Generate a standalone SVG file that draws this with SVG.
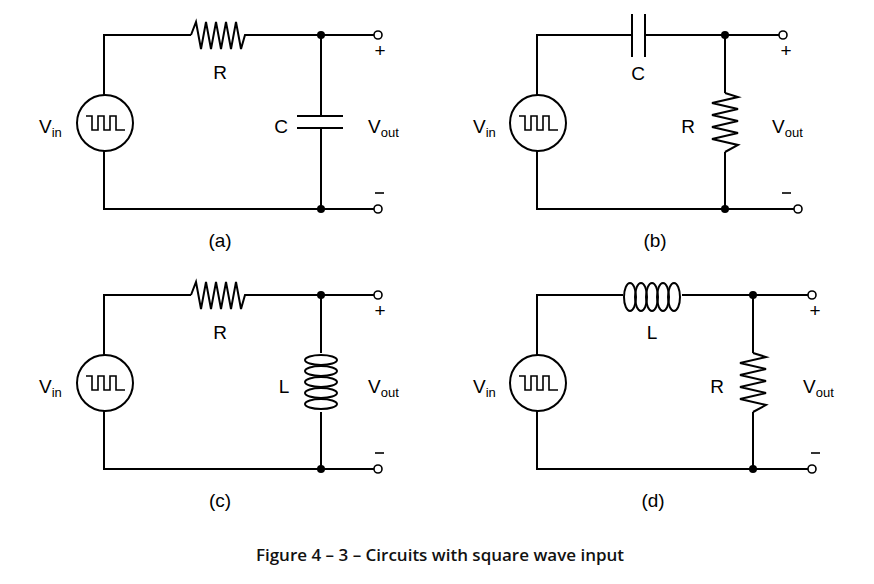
<svg xmlns="http://www.w3.org/2000/svg" width="874" height="584" viewBox="0 0 874 584">
<style>
.w{fill:none;stroke:#000;stroke-width:2;stroke-linejoin:miter}
.t{fill:none;stroke:#000;stroke-width:1.6}
.d{fill:#000}
.o{fill:#fff;stroke:#000;stroke-width:1.6}
.l{font-family:"Liberation Sans",Arial,sans-serif;font-size:19px;fill:#000}
.s{font-size:13px}
.c{text-anchor:middle}
.ti{font-family:"Open Sans","Liberation Sans",sans-serif;font-size:17px;font-weight:600;fill:#111;text-anchor:middle}
</style>
<defs>
<g id="src">
<circle cx="0" cy="0" r="28" fill="#fff" stroke="#000" stroke-width="2"/>
<path class="t" d="M-19 -7H-13V7H-7V-7H-1V7H5V-7H11V7H20"/>
</g>
</defs>
<rect width="874" height="584" fill="#fff"/>
<g id="connectors">
<path class="w" d="M104 95V35H191M249 35H374M104 151V209H374M321 35V116M321 128V209"/>
<path class="w" d="M537 95V35H632M645 35H779M537 151V209H794M725 35V93M725 152V209"/>
<path class="w" d="M104 355V295H191M249 295H374M104 411V469H374M321 295V353M321 412V469"/>
<path class="w" d="M537 355V295H623M682 295H808M537 411V469H808M753 295V353M753 412V469"/>
</g>
<g id="circuit-a">
<use href="#src" x="105" y="123"/>
<path class="w" d="M191 35L196 22L201 49L206 22L211 49L216 22L221 49L226 22L231 49L236 22L241 49L245 35H249"/>
<path class="w" d="M297 116H343M297 128H343"/>
<circle class="d" cx="321" cy="35" r="4"/><circle class="d" cx="321" cy="209" r="4"/>
<circle class="o" cx="378" cy="35" r="4"/><circle class="o" cx="378" cy="209" r="4"/>
<text class="l" x="39" y="133">V<tspan class="s" dy="4">in</tspan></text>
<text class="l c" x="220" y="79">R</text>
<text class="l c" x="281" y="133">C</text>
<text class="l" x="368" y="133">V<tspan class="s" dy="4">out</tspan></text>
<text class="l c" x="380" y="57" font-size="14px">+</text>
<path class="t" d="M375 193H384"/>
<text class="l c" x="220" y="247">(a)</text>
</g>
<g id="circuit-b">
<use href="#src" x="538" y="123"/>
<path class="w" d="M632 14V57M645 14V57"/>
<path class="w" d="M725 93L738 97L712 103L738 109L712 115L738 121L712 127L738 133L712 139L738 145L725 152"/>
<circle class="d" cx="725" cy="35" r="4"/><circle class="d" cx="725" cy="209" r="4"/>
<circle class="o" cx="783" cy="35" r="4"/><circle class="o" cx="798" cy="209" r="4"/>
<text class="l" x="473" y="133">V<tspan class="s" dy="4">in</tspan></text>
<text class="l c" x="638" y="80">C</text>
<text class="l c" x="688" y="133">R</text>
<text class="l" x="772" y="133">V<tspan class="s" dy="4">out</tspan></text>
<text class="l c" x="786" y="57" font-size="14px">+</text>
<path class="t" d="M782 193H791"/>
<text class="l c" x="655" y="247">(b)</text>
</g>
<g id="circuit-c">
<use href="#src" x="105" y="383"/>
<path class="w" d="M191 295L196 282L201 309L206 282L211 309L216 282L221 309L226 282L231 309L236 282L241 309L245 295H249"/>
<g class="w" stroke-width="1.8">
<ellipse cx="321" cy="360" rx="16" ry="5"/><ellipse cx="321" cy="371" rx="16" ry="5"/><ellipse cx="321" cy="382" rx="16" ry="5"/><ellipse cx="321" cy="393" rx="16" ry="5"/><ellipse cx="321" cy="404" rx="16" ry="5"/>
</g>
<circle class="d" cx="321" cy="295" r="4"/><circle class="d" cx="321" cy="469" r="4"/>
<circle class="o" cx="378" cy="295" r="4"/><circle class="o" cx="378" cy="469" r="4"/>
<text class="l" x="39" y="393">V<tspan class="s" dy="4">in</tspan></text>
<text class="l c" x="220" y="339">R</text>
<text class="l c" x="284" y="393">L</text>
<text class="l" x="368" y="393">V<tspan class="s" dy="4">out</tspan></text>
<text class="l c" x="380" y="317" font-size="14px">+</text>
<path class="t" d="M375 453H384"/>
<text class="l c" x="220" y="507">(c)</text>
</g>
<g id="circuit-d">
<use href="#src" x="538" y="383"/>
<g class="w" stroke-width="1.8">
<ellipse cx="630" cy="297" rx="6" ry="14"/><ellipse cx="641" cy="297" rx="6" ry="14"/><ellipse cx="652" cy="297" rx="6" ry="14"/><ellipse cx="663" cy="297" rx="6" ry="14"/><ellipse cx="674" cy="297" rx="6" ry="14"/>
</g>
<path class="w" d="M753 353L766 357L740 363L766 369L740 375L766 381L740 387L766 393L740 399L766 405L753 412"/>
<circle class="d" cx="753" cy="295" r="4"/><circle class="d" cx="753" cy="469" r="4"/>
<circle class="o" cx="812" cy="295" r="4"/><circle class="o" cx="812" cy="469" r="4"/>
<text class="l" x="473" y="393">V<tspan class="s" dy="4">in</tspan></text>
<text class="l c" x="652" y="339">L</text>
<text class="l c" x="717" y="393">R</text>
<text class="l" x="803" y="393">V<tspan class="s" dy="4">out</tspan></text>
<text class="l c" x="815" y="317" font-size="14px">+</text>
<path class="t" d="M811 453H820"/>
<text class="l c" x="653" y="507">(d)</text>
</g>
<text class="ti" x="440" y="561">Figure 4 – 3 – Circuits with square wave input</text>
</svg>
